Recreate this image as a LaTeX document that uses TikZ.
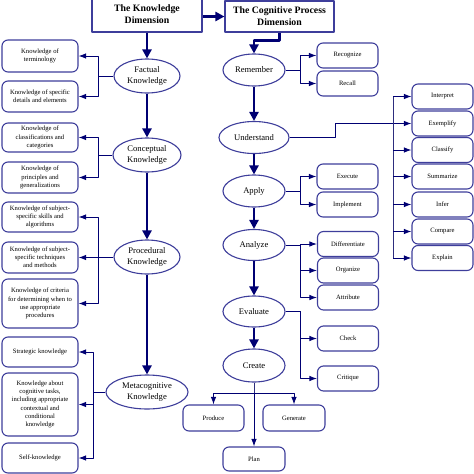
\documentclass[tikz,border=0pt]{standalone}
\usepackage{fontspec}
\setmainfont{Liberation Serif}
\usetikzlibrary{shapes.geometric,arrows.meta}
\definecolor{framecol}{RGB}{62,62,155}
\definecolor{wirecol}{RGB}{45,45,125}
\definecolor{headcol}{RGB}{0,0,115}
\begin{document}
\begin{tikzpicture}[x=1pt,y=-1pt,line join=round,
    leaf/.style={draw=framecol,line width=1.1pt,rounded corners=6pt,fill=white,align=center,
      inner sep=1pt,font=\fontsize{6.6}{8.2}\selectfont},
    side/.style={leaf,minimum width=76pt},
    cog/.style={leaf,minimum width=61pt,minimum height=25pt},
    concept/.style={ellipse,draw=framecol,line width=1.1pt,fill=white,align=center,inner sep=0pt,
      font=\fontsize{8.6}{11.5}\selectfont,minimum height=34pt},
    title/.style={draw=framecol,line width=1.1pt,fill=white,align=center,inner sep=0pt,
      font=\bfseries\fontsize{9.8}{12}\selectfont},
    main/.style={-{Triangle[length=9pt,width=9pt]},line width=2.6pt,draw=headcol},
    link/.style={-{Latex[length=7.5pt,width=5.5pt]},line width=0.9pt,draw=wirecol,color=headcol},
    wire/.style={line width=0.9pt,draw=wirecol}]
\useasboundingbox (0,0) rectangle (474,474);
% the two dimensions
\node[title,minimum width=110pt,minimum height=35pt] (kdim) at (147,14.5) {The Knowledge\\Dimension};
\node[title,minimum width=109pt,minimum height=31pt] (cdim) at (279.5,16.5) {The Cognitive Process\\Dimension};
% knowledge column
\node[concept,minimum width=66pt] (fact) at (147,76) {Factual\\Knowledge};
\node[concept,minimum width=68pt] (conc) at (147,155) {Conceptual\\Knowledge};
\node[concept,minimum width=66pt] (proc) at (147,257) {Procedural\\Knowledge};
\node[concept,minimum width=82pt] (meta) at (147,392) {Metacognitive\\Knowledge};
\node[side,minimum height=32pt] (kterm) at (40,56) {Knowledge of\\terminology};
\node[side,minimum height=31pt] (kspec) at (40,96.5) {Knowledge of specific\\details and elements};
\node[side,minimum height=29pt] (kclass) at (40,137.5) {Knowledge of\\classifications and\\categories};
\node[side,minimum height=31pt] (kprin) at (40,177.5) {Knowledge of\\principles and\\generalizations};
\node[side,minimum height=30pt] (kskill) at (40,217) {Knowledge of subject-\\specific skills and\\algorithms};
\node[side,minimum height=31pt] (ktech) at (40,257.5) {Knowledge of subject-\\specific techniques\\and methods};
\node[side,minimum height=49pt] (kcrit) at (40,303.5) {Knowledge of criteria\\for determining when to\\use appropriate\\procedures};
\node[side,minimum height=30pt] (kstrat) at (40,352) {Strategic knowledge};
\node[side,minimum height=63pt] (ktask) at (40,404.5) {Knowledge about\\cognitive tasks,\\including appropriate\\contextual and\\conditional\\knowledge};
\node[side,minimum height=30pt] (kself) at (40,458) {Self-knowledge};
% cognitive column
\node[concept,minimum width=62pt,minimum height=32pt] (rem) at (254,70) {Remember};
\node[concept,minimum width=70pt,minimum height=32pt] (und) at (254,137.5) {Understand};
\node[concept,minimum width=62pt,minimum height=32pt] (apply) at (254,191) {Apply};
\node[concept,minimum width=62pt,minimum height=31pt] (anal) at (254,245) {Analyze};
\node[concept,minimum width=62pt,minimum height=31pt] (eval) at (254,311.5) {Evaluate};
\node[concept,minimum width=62pt,minimum height=33pt] (create) at (254,365.5) {Create};
\node[cog] (recog) at (347.5,55.5) {Recognize};
\node[cog] (recall) at (347.5,83.5) {Recall};
\node[cog] (exec) at (347.5,176.5) {Execute};
\node[cog] (impl) at (347.5,204.5) {Implement};
\node[cog] (diff) at (348,244) {Differentiate};
\node[cog] (org) at (348,270.5) {Organize};
\node[cog] (attr) at (348,297.5) {Attribute};
\node[cog] (check) at (348,338.5) {Check};
\node[cog] (crit) at (348,378.5) {Critique};
\node[cog] (interp) at (442.5,96.5) {Interpret};
\node[cog] (exem) at (442.5,123.5) {Exemplify};
\node[cog] (class) at (442.5,150) {Classify};
\node[cog] (summ) at (442.5,176.5) {Summarize};
\node[cog] (infer) at (442.5,204.5) {Infer};
\node[cog] (comp) at (442.5,231.5) {Compare};
\node[cog] (expl) at (442.5,258) {Explain};
\node[cog,minimum height=26pt] (prod) at (213.5,418) {Produce};
\node[cog,minimum width=62pt,minimum height=26pt] (gen) at (294,418) {Generate};
\node[cog,minimum width=62pt,minimum height=24pt] (plan) at (254,459) {Plan};
% thick arrows
\draw[main] (kdim.east |- cdim.west) -- (cdim.west);
\draw[main] (kdim) -- (fact);
\draw[main] (fact) -- (conc);
\draw[main] (conc) -- (proc);
\draw[main] (proc) -- (meta);
\draw[main] (cdim.south) -- ++(0,8) -| (rem.north);
\draw[main] (rem) -- (und);
\draw[main] (und) -- (apply);
\draw[main] (apply) -- (anal);
\draw[main] (anal) -- (eval);
\draw[main] (eval) -- (create);
% knowledge branches
\foreach \c/\b in {fact/kterm,fact/kspec,conc/kclass,conc/kprin,proc/kskill,proc/ktech,proc/kcrit}
  \draw[link] (\c.west) -| ([xshift=20pt]kterm.east |- \b.east) -- (\b.east);
\foreach \b in {kstrat,ktask,kself}
  \draw[link] (meta.west) -| ([xshift=15pt]kstrat.east |- \b.east) -- (\b.east);
% cognitive branches
\foreach \c/\b in {rem/recog,rem/recall,apply/exec,apply/impl,anal/diff,anal/org,anal/attr,eval/check,eval/crit}
  \draw[link] (\c.east) -- (\c.east -| 300,0) |- (\b.west);
\coordinate (bus) at (393,0);
\draw[link] (und.east) -- ++(46,0) |- (exem.west);
\draw[wire] (bus |- interp.west) -- (bus |- expl.west);
\foreach \b in {interp,class,summ,infer,comp,expl}
  \draw[link] (bus |- \b.west) -- (\b.west);
\coordinate (cj) at (254,393);
\draw[wire] (create.south) -- (cj);
\draw[link] (cj) -- (plan.north);
\draw[link] (cj) -| (prod.north);
\draw[link] (cj) -| (gen.north);
\end{tikzpicture}
\end{document}
